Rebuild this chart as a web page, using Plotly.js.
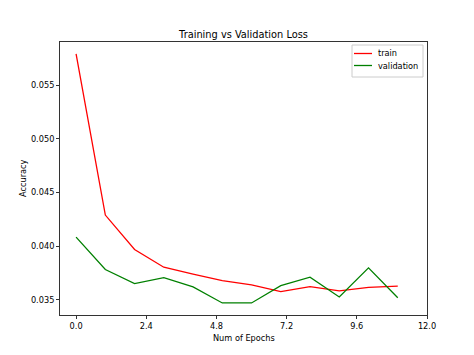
<!DOCTYPE html>
<html>
<head>
<meta charset="utf-8">
<script src="https://cdn.plot.ly/plotly-3.0.1.min.js"></script>
<style>html,body{margin:0;padding:0;background:#fff;}#chart{width:474px;height:355px;}</style>
</head>
<body>
<div id="chart"></div>
<script>
const epochs = [0, 1, 2, 3, 4, 5, 6, 7, 8, 9, 10, 11];
const trainLoss = [0.0579, 0.0429, 0.0397, 0.03805, 0.0374, 0.0368, 0.0364, 0.03578, 0.03624, 0.03584, 0.03618, 0.03628];
const valLoss = [0.04085, 0.03783, 0.03652, 0.03708, 0.03621, 0.03472, 0.03472, 0.03633, 0.03712, 0.03528, 0.03799, 0.03521];
const seriesNames = ['train', 'validation'];
const seriesColors = ['#ff0000', '#008000'];
const xTicks = [0, 2.4, 4.8, 7.2, 9.6, 12.0];
const yTicks = [0.035, 0.040, 0.045, 0.050, 0.055];

const font = {family: 'DejaVu Sans', size: 8.2, color: '#000'};
const traces = [trainLoss, valLoss].map((ys, i) => ({
  x: epochs, y: ys, type: 'scatter', mode: 'lines', name: seriesNames[i],
  line: {color: seriesColors[i], width: 1.3}, showlegend: false
}));
const axisCommon = {
  showline: true, mirror: true, linecolor: '#333', linewidth: 1,
  showgrid: false, zeroline: false, ticks: 'outside', ticklen: 3, tickwidth: 1, tickcolor: '#333',
  tickfont: font
};

// plot area in pixels: x 60..427, y 42..315
const W = 367, H = 273;
const px = p => (p - 60) / W;
const py = p => (315 - p) / H;

const shapes = [
  {type: 'rect', xref: 'paper', yref: 'paper', x0: px(352), x1: px(423), y0: py(77), y1: py(45),
   line: {color: '#cccccc', width: 1}, fillcolor: 'rgba(255,255,255,0.8)'}
];
const annotations = [
  {text: 'Num of Epochs', xref: 'paper', yref: 'paper', x: 0.5, y: py(337.7), xanchor: 'center', yanchor: 'middle', showarrow: false, font: font},
  {text: 'Accuracy', xref: 'paper', yref: 'paper', x: px(22.5), y: 0.5, xanchor: 'center', yanchor: 'middle', textangle: -90, showarrow: false, font: font}
];
const legendRows = [53.5, 65.5];
seriesNames.forEach((name, i) => {
  shapes.push({type: 'line', xref: 'paper', yref: 'paper', x0: px(354), x1: px(372), y0: py(legendRows[i]), y1: py(legendRows[i]),
    line: {color: seriesColors[i], width: 1.3}});
  annotations.push({text: name, xref: 'paper', yref: 'paper', x: px(376), y: py(legendRows[i]), xanchor: 'left', yanchor: 'middle',
    showarrow: false, font: font});
});

const layout = {
  width: 474, height: 355,
  margin: {l: 60, r: 47, t: 42, b: 40},
  paper_bgcolor: '#fff', plot_bgcolor: '#fff',
  font: font,
  title: {text: 'Training vs Validation Loss', font: {family: 'DejaVu Sans', size: 9.8, color: '#000'},
    x: 0.5137, xref: 'container', xanchor: 'center', y: 1 - 34.5 / 355, yref: 'container', yanchor: 'middle'},
  xaxis: Object.assign({}, axisCommon, {
    range: [-0.55, 12.0], tickvals: xTicks, ticktext: xTicks.map(v => v.toFixed(1))
  }),
  yaxis: Object.assign({}, axisCommon, {
    range: [0.0336, 0.05901], tickvals: yTicks, ticktext: yTicks.map(v => v.toFixed(3))
  }),
  showlegend: false,
  shapes: shapes,
  annotations: annotations
};
Plotly.newPlot('chart', traces, layout, {displayModeBar: false, staticPlot: true});
</script>
</body>
</html>
